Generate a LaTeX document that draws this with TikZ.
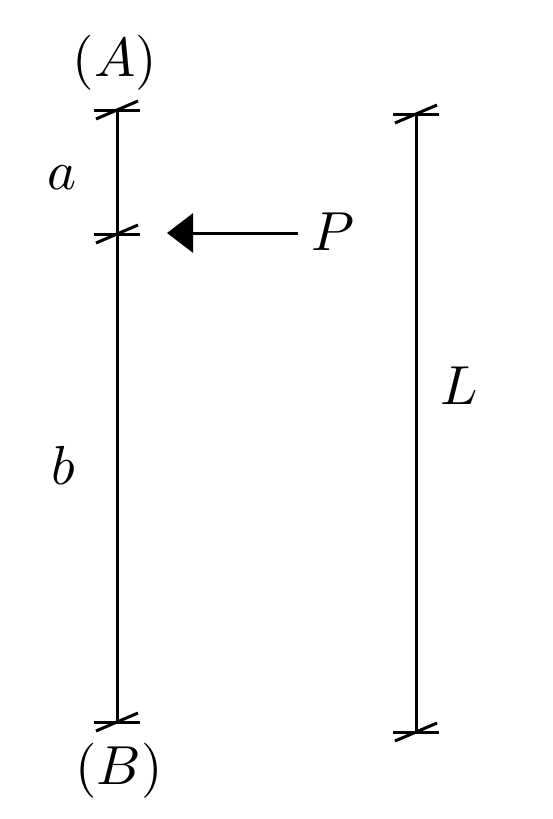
\documentclass[tikz,border=0pt]{standalone}
\usetikzlibrary{arrows.meta}
\newcommand{\biglbl}[1]{\scalebox{5.5}{$#1$}}
\begin{document}
\begin{tikzpicture}[x=1pt,y=-1pt,line width=3pt,
  lbl/.style={inner sep=0pt},
  tick/.style={line width=3pt}]
\useasboundingbox (0,0) rectangle (552,819);
% coordinates
\coordinate (At) at (117,110);
\coordinate (Am) at (117,234);
\coordinate (Ab) at (117,722);
\coordinate (Lt) at (416,114);
\coordinate (Lb) at (416,732);
\coordinate (Ps) at (298,233);
\coordinate (Pe) at (167,233);
% vertical lines
\draw (At) -- (Ab);
\draw (Lt) -- (Lb);
% ticks
\foreach \c in {At,Am,Ab,Lt,Lb}{
  \draw[tick] ([xshift=-23pt]\c) -- ([xshift=23pt]\c);
  \draw[tick] ([xshift=-21pt,yshift=-9pt]\c) -- ([xshift=21pt,yshift=9pt]\c);
}
% arrow
\draw[-{Triangle[length=26pt,width=39pt]}] (Ps) -- (Pe);
% labels
\node[lbl] (A) at (115,63) {\biglbl{(A)}};
\node[lbl] (B) at (119,771) {\biglbl{(B)}};
\node[lbl] (a) at (62,178) {\biglbl{a}};
\node[lbl] (b) at (63,465) {\biglbl{b}};
\node[lbl] (P) at (333,232) {\biglbl{P}};
\node[lbl] (L) at (459,386) {\biglbl{L}};
\end{tikzpicture}
\end{document}
